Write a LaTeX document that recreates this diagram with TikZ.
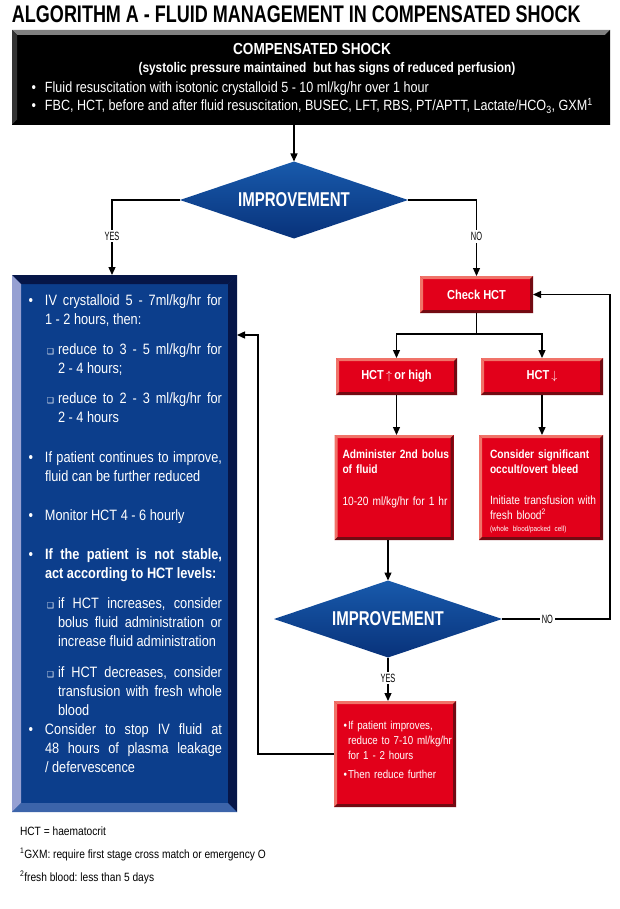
\documentclass[tikz,border=0pt]{standalone}
\usepackage{fontspec}
\setmainfont[FakeStretch=0.85]{Liberation Sans}
\newfontfamily\condfont[FakeStretch=0.75]{Liberation Sans}
\newfontfamily\narrowfont[FakeStretch=0.62]{Liberation Sans}
\newfontfamily\symbfont{DejaVu Sans}
\usetikzlibrary{positioning, arrows.meta, shapes.geometric}
\frenchspacing

\definecolor{shockred}{RGB}{226,0,26}
\definecolor{redlight}{RGB}{240,115,105}
\definecolor{reddark}{RGB}{115,10,18}
\definecolor{boxblue}{RGB}{12,62,140}
\definecolor{bluelight}{RGB}{60,100,170}
\definecolor{navy}{RGB}{6,22,72}
\definecolor{lavender}{RGB}{150,160,210}
\definecolor{diamtop}{RGB}{24,90,172}
\definecolor{diambot}{RGB}{8,50,122}

% bevelled edges: node, depth, top, left, right, bottom
\newcommand{\bevel}[6]{%
  \fill[#3] (#1.north west) -- (#1.north east) -- ([shift={(-#2,#2)}]#1.north east) -- ([shift={(#2,#2)}]#1.north west) -- cycle;
  \fill[#4] (#1.north west) -- (#1.south west) -- ([shift={(#2,-#2)}]#1.south west) -- ([shift={(#2,#2)}]#1.north west) -- cycle;
  \fill[#5] (#1.north east) -- (#1.south east) -- ([shift={(-#2,-#2)}]#1.south east) -- ([shift={(-#2,#2)}]#1.north east) -- cycle;
  \fill[#6] (#1.south west) -- (#1.south east) -- ([shift={(-#2,-#2)}]#1.south east) -- ([shift={(#2,-#2)}]#1.south west) -- cycle;
}
\newcommand{\bul}[1][12pt]{\leavevmode\llap{\textbullet\hspace{#1}}}
\newcommand{\sqbul}{\leavevmode\llap{{\symbfont\fontsize{8}{8}\selectfont ❑}\hspace{4pt}}}

\begin{document}
\begin{tikzpicture}[
    x=1pt, y=-1pt,
    every node/.style={inner sep=0pt, outer sep=0pt},
    arr/.style={-{Triangle[length=8pt, width=7pt]}, line width=1.3pt},
    lbl/.style={fill=white, inner sep=2pt, font=\narrowfont\fontsize{12}{12}\selectfont},
    panel/.style={rectangle, fill=#1, anchor=north west},
    redbox/.style={rectangle, fill=shockred, text=white, font=\bfseries\fontsize{13}{13}\selectfont},
    redtxt/.style={text=white, align=left, anchor=base west, font=\fontsize{12}{15}\selectfont},
    decision/.style={diamond, aspect=2.96, minimum width=228pt, minimum height=77pt, top color=diamtop, bottom color=diambot, text=white, font=\condfont\bfseries\fontsize{20}{20}\selectfont},
    bluetxt/.style={text=white, align=justify, anchor=base west, font=\fontsize{15}{19.3}\selectfont},
    shocktxt/.style={text=white, anchor=base west, font=\fontsize{14.8}{14.8}\selectfont},
    foot/.style={anchor=base west, font=\fontsize{12}{12}\selectfont},
]
    \path[use as bounding box, fill=white] (0,0) rectangle (619,909);

    % title
    \node[anchor=base west, font=\condfont\bfseries\fontsize{24}{24}\selectfont] (title) at (12,23) {ALGORITHM A - FLUID MANAGEMENT IN COMPENSATED SHOCK};

    % compensated shock
    \node[panel=black, minimum width=598pt, minimum height=95pt] (shock) at (12,30) {};
    \bevel{shock}{5}{gray}{black!80}{black}{black}
    \node[shocktxt, anchor=base, font=\bfseries\fontsize{16}{16}\selectfont] (shockhead) at (312,55) {COMPENSATED SHOCK};
    \node[shocktxt, anchor=base, font=\bfseries\fontsize{14}{14}\selectfont] (shocksub) at (327,73) {(systolic pressure maintained\ \ but has signs of reduced perfusion)};
    \node[shocktxt] (shockfluid) at (45,93) {\bul[9pt]Fluid resuscitation with isotonic crystalloid 5 - 10 ml/kg/hr over 1 hour};
    \node[shocktxt] (shocklab) at (45,111) {\bul[9pt]FBC, HCT, before and after fluid resuscitation, BUSEC, LFT, RBS, PT/APTT, Lactate/HCO\textsubscript{3}, GXM\textsuperscript{1}};

    % first decision
    \node[decision] (imp1) at (294,200) {IMPROVEMENT};

    % YES side
    \node[panel=boxblue, minimum width=225pt, minimum height=537pt] (fluid) at (12,275) {};
    \bevel{fluid}{9}{navy}{lavender}{navy}{bluelight}
    \node[bluetxt, text width=177pt] (ivfluid) at (45,305) {\bul IV crystalloid 5 - 7ml/kg/hr for\linebreak 1 - 2 hours, then:};
    \node[bluetxt, text width=164pt] (red35) at (58,354) {\sqbul reduce to 3 - 5 ml/kg/hr for\linebreak 2 - 4 hours;};
    \node[bluetxt, text width=164pt] (red23) at (58,403) {\sqbul reduce to 2 - 3 ml/kg/hr for\linebreak 2 - 4 hours};
    \node[bluetxt, text width=177pt] (improve) at (45,462) {\bul If patient continues to improve,\linebreak fluid can be further reduced};
    \node[bluetxt, text width=177pt] (monitor) at (45,520) {\bul Monitor HCT 4 - 6 hourly};
    \node[bluetxt, text width=177pt] (unstable) at (45,559) {\bul\textbf{If the patient is not stable,\linebreak act according to HCT levels:}};
    \node[bluetxt, text width=164pt] (hctinc) at (58,608) {\sqbul if HCT increases, consider\linebreak bolus fluid administration or\linebreak increase fluid administration};
    \node[bluetxt, text width=164pt] (hctdec) at (58,677) {\sqbul if HCT decreases, consider\linebreak transfusion with fresh whole\linebreak blood};
    \node[bluetxt, text width=177pt] (stop) at (45,734) {\bul Consider to stop IV fluid at\linebreak 48 hours of plasma leakage\linebreak / defervescence};

    % NO side
    \node[redbox, minimum width=113pt, minimum height=37pt] (checkhct) at (476.5,294.5) {Check HCT};
    \node[redbox, minimum width=121pt, minimum height=37pt] (hctup) at (396.5,376.5) {HCT\,$\uparrow$\,or high};
    \node[redbox, minimum width=122pt, minimum height=37pt] (hctdown) at (542,376.5) {HCT\,$\downarrow$};
    \node[redbox, minimum width=119pt, minimum height=105pt] (bolus) at (394,487.5) {};
    \node[redbox, minimum width=124pt, minimum height=105pt] (bleed) at (541,487.5) {};
    \foreach \b in {checkhct, hctup, hctdown, bolus, bleed}
        \bevel{\b}{3}{redlight}{redlight}{reddark}{reddark};
    \node[redtxt, text width=108pt] (bolustxt) at ([shift={(8,23)}]bolus.north west) {\textbf{Administer 2nd bolus}\\\textbf{of fluid}\\[17pt]10-20 ml/kg/hr for 1 hr};
    \node[redtxt, text width=110pt] (bleedtxt) at ([shift={(11,23)}]bleed.north west) {\textbf{Consider significant}\\\textbf{occult/overt bleed}\\[16pt]Initiate transfusion with\\fresh blood\textsuperscript{2}\\[-3pt]{\fontsize{7.5}{7.5}\selectfont (whole blood/packed cell)}};

    % second decision
    \node[decision] (imp2) at (388,619) {IMPROVEMENT};
    \node[redbox, minimum width=122pt, minimum height=106pt] (reduce) at (395,754) {};
    \bevel{reduce}{3}{redlight}{redlight}{reddark}{reddark}
    \node[redtxt, text width=120pt, font=\fontsize{11.5}{15}\selectfont] (reducetxt) at ([shift={(14,28)}]reduce.north west) {\bul[1pt]If patient improves,\\reduce to 7-10 ml/kg/hr\\for 1 - 2 hours\\[4pt]\bul[1pt]Then reduce further};

    % footnotes
    \node[foot] (fnhct) at (20,835) {HCT = haematocrit};
    \node[foot] (fngxm) at (20,858) {\textsuperscript{1}GXM: require first stage cross match or emergency O};
    \node[foot] (fnblood) at (20,881) {\textsuperscript{2}fresh blood: less than 5 days};

    % connectors
    \draw[arr] (shock.south -| imp1.north) -- (imp1.north);
    \draw[arr] (imp1.west) -| ([xshift=100pt]fluid.north west) node[lbl, pos=0.74] {YES};
    \draw[arr] (imp1.east) -| (checkhct.north) node[lbl, pos=0.74] {NO};
    \draw[arr] (checkhct.south) -- ++(0,21) -| (hctup.north);
    \draw[arr] (checkhct.south) -- ++(0,21) -| (hctdown.north);
    \draw[arr] (hctup.south) -- (hctup.south |- bolus.north);
    \draw[arr] (hctdown.south) -- (hctdown.south |- bleed.north);
    \draw[arr] (bolus.south -| imp2.north) -- (imp2.north);
    \draw[arr] (imp2.south) -- (imp2.south |- reduce.north) node[lbl, pos=0.47] {YES};
    \draw[arr] (imp2.east) -- ++(108,0) node[lbl, pos=0.42] {NO} |- (checkhct.east);
    \draw[arr] (reduce.west) -- ++(-76,0) |- ([yshift=-60pt]fluid.north east);
\end{tikzpicture}
\end{document}
